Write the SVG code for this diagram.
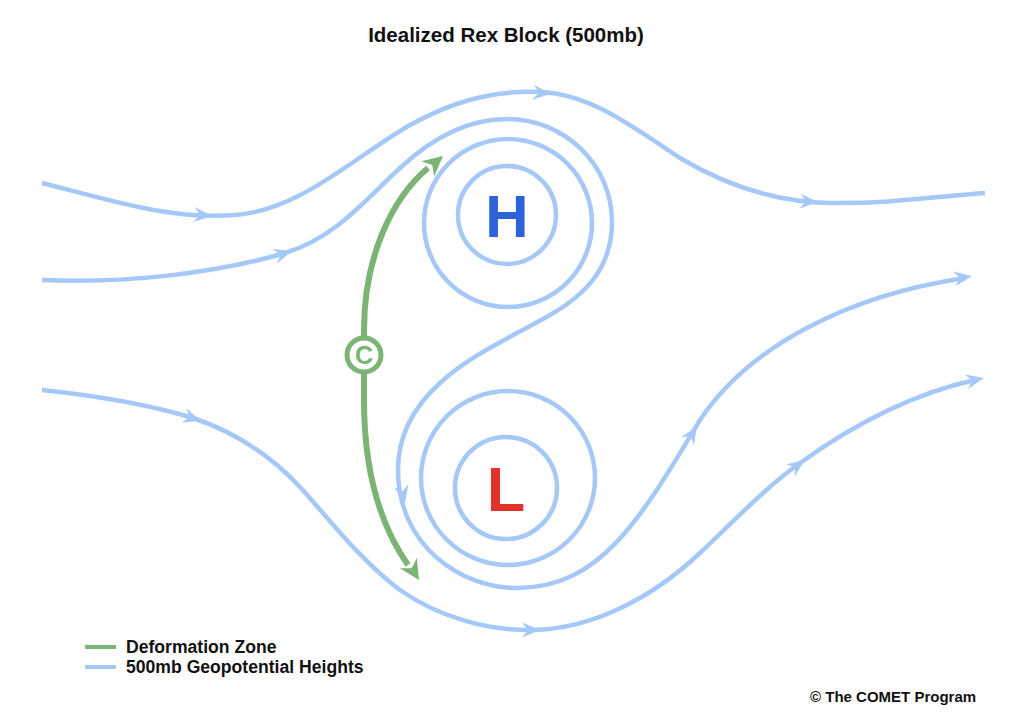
<svg xmlns="http://www.w3.org/2000/svg" width="1024" height="725" viewBox="0 0 1024 725">
<style>
.hl{fill:none;stroke:#a6c8f7;stroke-width:4.5;stroke-linecap:butt}
.ba{fill:#a6c8f7}
.gl{fill:none;stroke:#7bb475;stroke-width:6}
.ga{fill:#7bb475}
.t{font-family:"Liberation Sans",Arial,sans-serif;font-weight:bold;fill:#111}
</style>
<defs>
<path id="ab" d="M0,0 L-18,-7.5 L-12,0 L-18,7.5 Z"/>
<path id="ag" d="M0,0 L-20,-10 L-14,0 L-20,10 Z"/>
</defs>
<rect width="1024" height="725" fill="#fff"/>
<text class="t" x="506" y="42" font-size="20.5" text-anchor="middle">Idealized Rex Block (500mb)</text>
<g id="connectors">
<path class="hl" d="M42,183 C110,200 170,220 235,215 C300,210 350,160 410,125 C450,103 490,90 540,92 C590,94 630,125 680,158 C730,188 780,202 830,203 C890,204 940,196 985,193"/>
<path class="hl" d="M42,280 C130,284 220,272 285,253 C335,238 365,200 400,168 C430,140 465,119 507,119 C565,119 612,165 612,222 C612,268 585,295 550,315 C510,338 470,355 440,383 C410,410 398,440 398,470 C398,545 460,588 517,588 C600,588 640,520 700,420 C750,345 850,295 965,278"/>
<path class="hl" d="M42,390 C100,396 150,405 193,418 C235,432 270,455 300,487 C330,520 360,560 400,590 C440,618 490,631 533,630 C590,629 650,600 700,553 C735,520 765,488 800,463 C860,420 920,392 975,380"/>
<use href="#ab" class="ba" transform="translate(212,216) rotate(5)"/>
<use href="#ab" class="ba" transform="translate(551,94) rotate(6)"/>
<use href="#ab" class="ba" transform="translate(818,202) rotate(3)"/>
<use href="#ab" class="ba" transform="translate(292,251) rotate(-17)"/>
<use href="#ab" class="ba" transform="translate(405,503) rotate(78)"/>
<use href="#ab" class="ba" transform="translate(697,426) rotate(-58)"/>
<use href="#ab" class="ba" transform="translate(972,276) rotate(-9)"/>
<use href="#ab" class="ba" transform="translate(201,421) rotate(18)"/>
<use href="#ab" class="ba" transform="translate(540,630) rotate(0)"/>
<use href="#ab" class="ba" transform="translate(805,460) rotate(-35)"/>
<use href="#ab" class="ba" transform="translate(984,378) rotate(-12)"/>
</g>
<g id="high">
<circle class="hl" cx="507" cy="215" r="49"/>
<circle class="hl" cx="508" cy="223" r="84"/>
<text x="507" y="237" font-family="Liberation Sans,Arial,sans-serif" font-weight="bold" font-size="60" fill="#2e62d9" text-anchor="middle">H</text>
</g>
<g id="low">
<circle class="hl" cx="506" cy="488" r="51"/>
<circle class="hl" cx="508" cy="478" r="87"/>
<text x="506" y="511" font-family="Liberation Sans,Arial,sans-serif" font-weight="bold" font-size="63" fill="#e0332b" text-anchor="middle">L</text>
</g>
<g id="deformation">
<path class="gl" d="M408,565 C380,525 364,470 364,400 L364,330 C364,260 390,200 428,168"/>
<use href="#ag" class="ga" transform="translate(443,156) rotate(-40)"/>
<use href="#ag" class="ga" transform="translate(419,580) rotate(58)"/>
<circle cx="364" cy="355" r="17" fill="#fff" stroke="#7bb475" stroke-width="5"/>
<text x="364" y="364" font-family="Liberation Sans,Arial,sans-serif" font-weight="bold" font-size="25" fill="#7bb475" text-anchor="middle">C</text>
</g>
<g id="legend">
<line x1="85" y1="647" x2="116" y2="647" stroke="#7bb475" stroke-width="4"/>
<text class="t" x="126" y="653" font-size="17.6">Deformation Zone</text>
<line x1="85" y1="667" x2="116" y2="667" stroke="#a6c8f7" stroke-width="4"/>
<text class="t" x="126" y="673" font-size="17.6">500mb Geopotential Heights</text>
</g>
<text class="t" x="810" y="702" font-size="15">© The COMET Program</text>
</svg>
